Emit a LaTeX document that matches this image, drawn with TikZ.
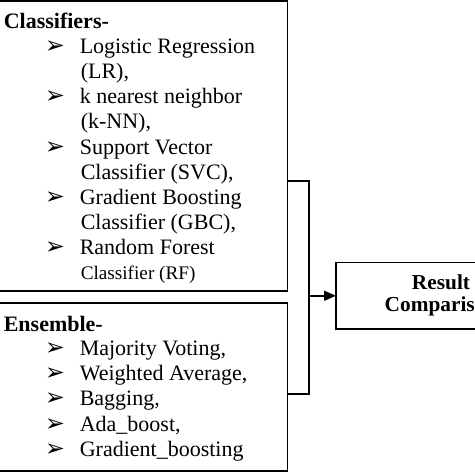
\documentclass[tikz,border=0pt]{standalone}
\usepackage{fontspec}
\setmainfont{Liberation Serif}
\newfontfamily\dingfont{DejaVu Sans}
\usetikzlibrary{arrows.meta, positioning}

\newcommand{\bul}{\makebox[26.25pt][l]{\dingfont\fontsize{18}{18}\selectfont ➢}}

\begin{document}
\begin{tikzpicture}[
            x = 0.75pt, y = -0.75pt, % one unit is one pixel, y runs down
            > = {Triangle[length = 9pt, width = 7.5pt]}, % arrow head style
            line width = 1.2pt % line style
        ]

        \tikzstyle{box}=[
            draw = black,
            line width = 1.3pt,
            rectangle,
            inner sep = 0pt,
            outer sep = 0pt,
            anchor = north west
        ]
        \tikzstyle{line}=[
            anchor = base west,
            inner sep = 0pt,
            font = \fontsize{16.5}{18}\selectfont
        ]
        \tikzstyle{head}=[line, font = \fontsize{16.5}{18}\selectfont\bfseries]

        \useasboundingbox (0,0) rectangle (474,474);

        % boxes
        \node[box, minimum width = 223.1pt, minimum height = 217.5pt] (clsbox) at (-10,1) {};
        \node[box, minimum width = 223.1pt, minimum height = 126pt] (ensbox) at (-10,303) {};
        \node[box, minimum width = 157.5pt, minimum height = 49.9pt, align = center,
            font = \fontsize{16}{16.5}\selectfont\bfseries] (result) at (336,262.5) {Result\\Comparison};

        % classifiers
        \node[head] (cls) at (3,28.5) {Classifiers-};
        \node[line] (lr) at (44,53.6) {\bul Logistic Regression};
        \node[line] (lr2) at (80,78.7) {(LR),};
        \node[line] (knn) at (44,103.8) {\bul k nearest neighbor};
        \node[line] (knn2) at (80,128.9) {(k-NN),};
        \node[line] (svc) at (44,154) {\bul Support Vector};
        \node[line] (svc2) at (80,179.1) {Classifier (SVC),};
        \node[line] (gbc) at (44,204.2) {\bul Gradient Boosting};
        \node[line] (gbc2) at (80,229.3) {Classifier (GBC),};
        \node[line] (rf) at (44,254.4) {\bul Random Forest};
        \node[line, font = \fontsize{14.4}{16}\selectfont] (rf2) at (80,279.5) {Classifier (RF)};

        % ensembles
        \node[head] (ens) at (3,331) {Ensemble-};
        \node[line] (mv) at (44,355.5) {\bul Majority Voting,};
        \node[line] (wa) at (44,380.5) {\bul Weighted Average,};
        \node[line] (bag) at (44,405.7) {\bul Bagging,};
        \node[line] (ada) at (44,431) {\bul Ada\_boost,};
        \node[line] (gb) at (44,456.5) {\bul Gradient\_boosting};

        % connectors
        \path (result.west) ++(-27,0) coordinate (join);
        \draw ([yshift = -26.25pt]clsbox.east) -| (join);
        \draw ([yshift = -5.25pt]ensbox.east) -| (join);
        \draw[->] (join) -- (result.west);

\end{tikzpicture}
\end{document}
